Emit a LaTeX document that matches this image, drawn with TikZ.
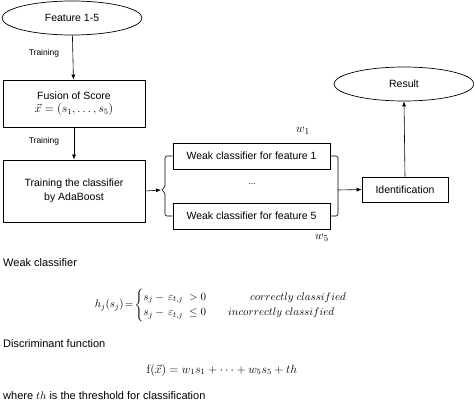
\documentclass[tikz,border=0pt]{standalone}
\usepackage{amsmath}
\usepackage[no-math]{fontspec}
\setmainfont{Liberation Sans}
\usetikzlibrary{shapes.geometric,arrows.meta}
\begin{document}
\begin{tikzpicture}[x=1pt,y=-1pt,
  every node/.style={font=\fontsize{10.5}{12}\selectfont},
  box/.style={draw,line width=0.7pt,rectangle,inner sep=0pt,align=center},
  oval/.style={draw,line width=0.7pt,ellipse,inner sep=0pt},
  lbl/.style={font=\fontsize{8.5}{10}\selectfont},
  wlbl/.style={font=\fontsize{12.5}{14}\selectfont},
  plain/.style={anchor=west,inner sep=0pt,font=\fontsize{11}{13}\selectfont},
  arr/.style={line width=0.6pt,-{Latex[length=5pt,width=4pt]}},
  con/.style={line width=0.6pt}]
\useasboundingbox (0,0) rectangle (474,402);
\node[oval,minimum width=140pt,minimum height=34pt] (feat) at (72,18) {Feature 1-5};
\node[box,minimum width=142pt,minimum height=47pt] (fusion) at (74,103.5) {Fusion of Score\\[1pt] \fontsize{11.5}{13}\selectfont$\vec{x}=(s_1,\dots,s_5)$};
\node[box,minimum width=142pt,minimum height=62pt] (train) at (74,191) {Training the classifier\\[2pt] by AdaBoost};
\node[box,minimum width=157pt,minimum height=26pt] (w1) at (251.5,156) {Weak classifier for feature 1};
\node[box,minimum width=157pt,minimum height=26pt] (w5) at (251.5,216) {Weak classifier for feature 5};
\node[lbl] (dots) at (252,184) {...};
\node[box,minimum width=86pt,minimum height=25pt] (ident) at (405,189.5) {Identification};
\node[oval,minimum width=140pt,minimum height=34pt] (result) at (404,84) {Result};
\node[lbl] (t1) at (44,53) {Training};
\node[lbl] (t2) at (44,141) {Training};
\node[wlbl] (lw1) at (303,131) {$w_1$};
\node[wlbl] (lw5) at (322,238) {$w_5$};
\coordinate (lc) at (161,190);
\coordinate (rc) at (338,190);
\draw[arr] (feat) -- (fusion);
\draw[arr] (fusion) -- (train);
\draw[con,rounded corners=2pt] (w1.west) -- (165,156) -- (165,188) -- (lc) -- (165,192) -- (165,216) -- (w5.west);
\draw[arr] (train.east) -- (lc);
\draw[con,rounded corners=2pt] (w1.east) -- (338,156) -- (338,216) -- (w5.east);
\draw[arr] (rc) -- (ident.west);
\draw[arr] (ident.north) -- (result.south);
\node[plain] (wc) at (3,263) {Weak classifier};
\node[font=\fontsize{11}{13}\selectfont] (hf) at (221,305) {$h_j(s_j)\!=\!\begin{cases} s_j-\,\varepsilon_{t,j}\;>0 & \qquad\quad correctly\ classified\\ s_j-\,\varepsilon_{t,j}\;\le 0 & \quad incorrectly\ classified\end{cases}$};
\node[plain] (df) at (3,344) {Discriminant function};
\node[font=\fontsize{11.5}{13}\selectfont] (ff) at (222,370) {$\mathrm{f}(\vec{x}) = w_1s_1+\cdots+w_5s_5+th$};
\node[plain] (wh) at (3,396) {where $th$ is the threshold for classification};
\end{tikzpicture}
\end{document}
